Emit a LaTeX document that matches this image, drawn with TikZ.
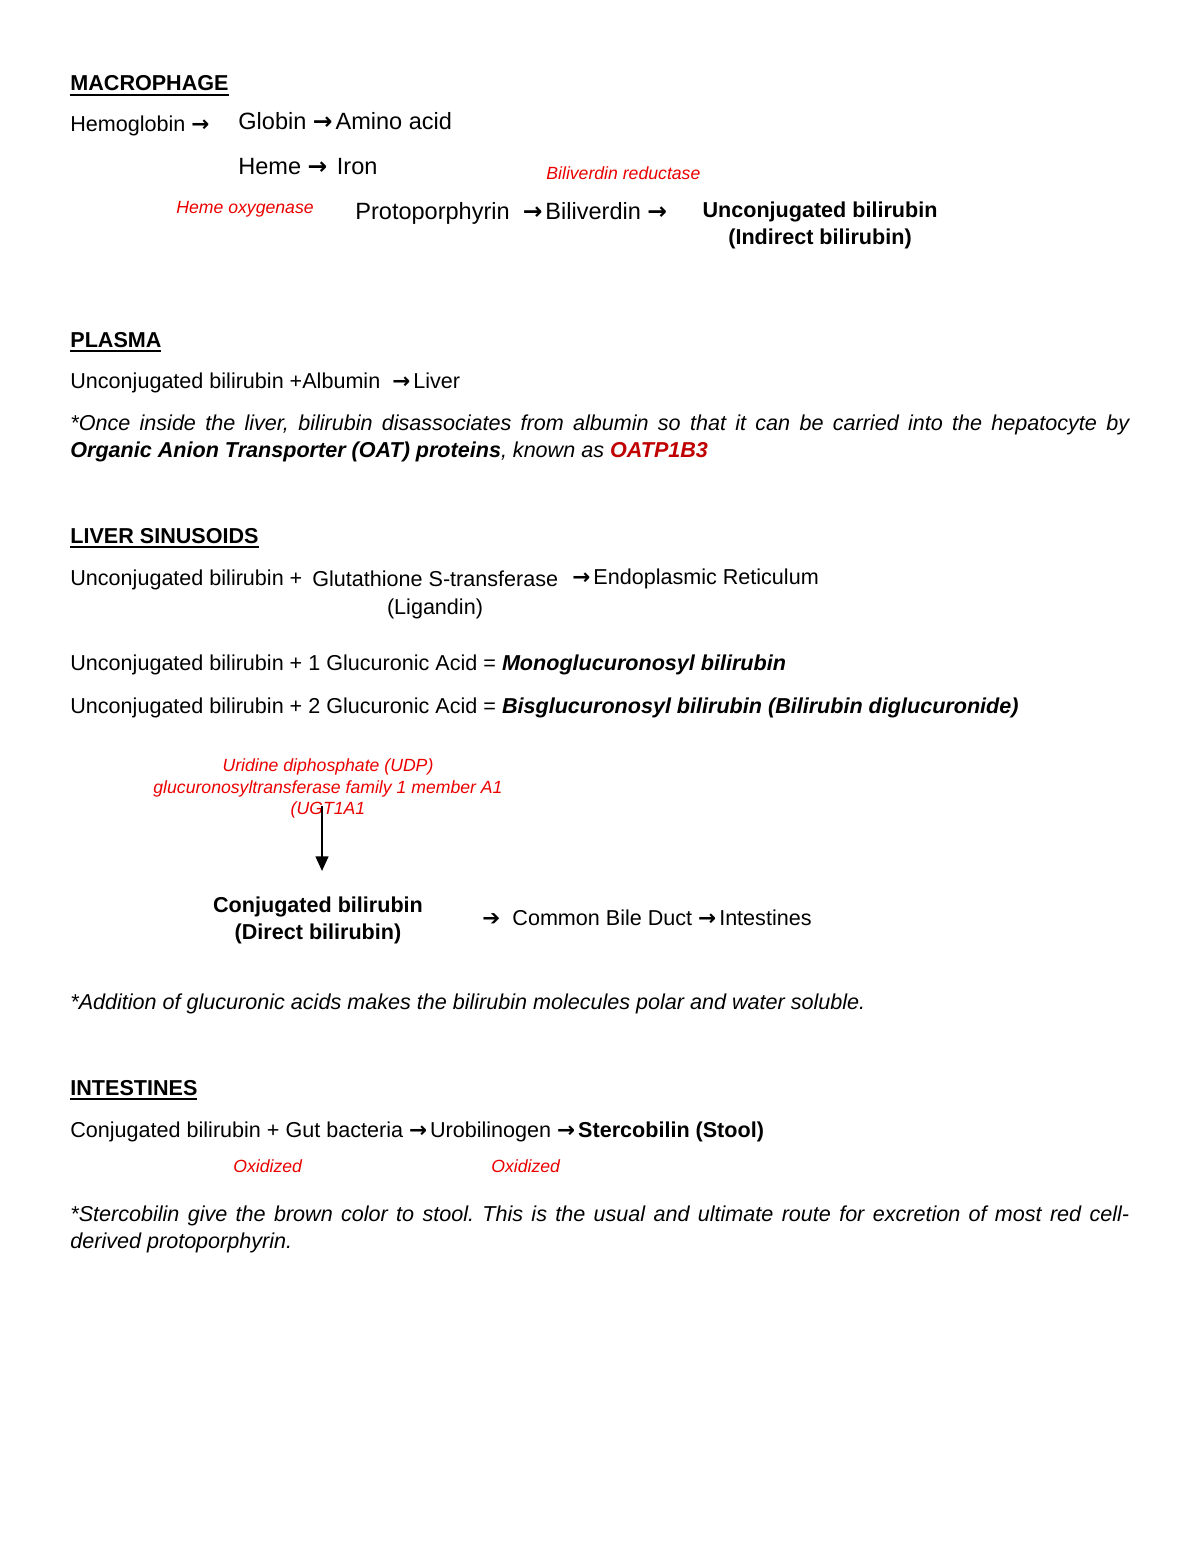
\documentclass[tikz,border=0pt]{standalone}
\usepackage{fontspec}
\setmainfont{Liberation Sans}
\newfontfamily\arrowfont{DejaVu Sans}
\usetikzlibrary{arrows.meta}
\frenchspacing
\definecolor{enzred}{RGB}{235,0,0}
\definecolor{oatred}{RGB}{192,0,0}
\newcommand\ra{{\arrowfont\bfseries →}\kern1.5pt}
\newcommand\hra{{\arrowfont\bfseries ➔}}
\newcommand\hdr[1]{\setbox0\hbox{\bfseries #1}\rlap{\rule[-2.4pt]{\wd0}{1.1pt}}\box0}
\newcommand\jline[1]{\makebox[540pt][s]{#1}}

\begin{document}
\begin{tikzpicture}[x=0.51pt,y=-0.51pt,
		txt/.style={anchor=base west,inner sep=0pt,font=\fontsize{11}{13}\selectfont},
		big/.style={txt,font=\fontsize{12}{14}\selectfont},
		mid/.style={txt,anchor=base},
		enz/.style={txt,text=enzred,font=\fontsize{9}{11}\selectfont\itshape}]
			\useasboundingbox (0,0) rectangle (1200,1553);
			\fill[white] (0,0) rectangle (1200,1553);
			% MACROPHAGE
			\node[txt] (mac) at (70,91) {\hdr{MACROPHAGE}};
			\node[txt] (hgb) at (70,132) {Hemoglobin \ra};
			\node[big] (glob) at (238,130) {Globin \ra Amino acid};
			\node[big] (heme) at (238,175) {Heme \ra\ Iron};
			\node[enz] (bvr) at (546,180) {Biliverdin reductase};
			\node[enz] (hox) at (176,214) {Heme oxygenase};
			\node[big] (proto) at (355,220) {Protoporphyrin \ \ra Biliverdin \ra};
			\node[mid,font=\fontsize{11}{13}\selectfont\bfseries] (ucb) at (820,218) {Unconjugated bilirubin};
			\node[mid,font=\fontsize{11}{13}\selectfont\bfseries] (ind) at (820,245) {(Indirect bilirubin)};
			% PLASMA
			\node[txt] (pla) at (70,347) {\hdr{PLASMA}};
			\node[txt] (alb) at (70,388) {Unconjugated bilirubin +Albumin \ \ra Liver};
			\node[txt,font=\fontsize{11}{13}\selectfont\itshape] (oat1) at (70,430) {\jline{*Once inside the liver, bilirubin disassociates from albumin so that it can be carried into the hepatocyte by}};
			\node[txt,font=\fontsize{11}{13}\selectfont\itshape] (oat2) at (70,457) {\textbf{Organic Anion Transporter (OAT) proteins}, known as \textcolor{oatred}{\textbf{OATP1B3}}};
			% LIVER SINUSOIDS
			\node[txt] (liv) at (70,543) {\hdr{LIVER SINUSOIDS}};
			\node[txt] (ub) at (70,585) {Unconjugated bilirubin +};
			\node[txt] (gst) at (312,586) {Glutathione S-transferase};
			\node[txt] (er) at (572,584) {\ra Endoplasmic Reticulum};
			\node[mid] (lig) at (435,614) {(Ligandin)};
			\node[txt] (mono) at (70,670) {Unconjugated bilirubin + 1 Glucuronic Acid = \textbf{\textit{Monoglucuronosyl bilirubin}}};
			\node[txt] (bis) at (70,713) {Unconjugated bilirubin + 2 Glucuronic Acid = \textbf{\textit{Bisglucuronosyl bilirubin (Bilirubin diglucuronide)}}};
			\node[enz,anchor=base] (udp1) at (328,771) {Uridine diphosphate (UDP)};
			\node[enz,anchor=base] (udp2) at (328,793) {glucuronosyltransferase family 1 member A1};
			\node[enz,anchor=base] (udp3) at (328,814) {(UGT1A1};
			\node[mid,font=\fontsize{11}{13}\selectfont\bfseries] (cb) at (318,912) {Conjugated bilirubin};
			\node[mid,font=\fontsize{11}{13}\selectfont\bfseries] (dir) at (318,939) {(Direct bilirubin)};
			\coordinate (ugt) at (322,806);
			\draw[line width=1.1pt,-{Triangle[width=6.5pt,length=7.5pt]}] (ugt) -- (ugt |- 0,871);
			\node[txt] (cbd) at (482,925) {\hra\ \ Common Bile Duct \ra Intestines};
			\node[txt,font=\fontsize{11}{13}\selectfont\itshape] (pol) at (70,1009) {*Addition of glucuronic acids makes the bilirubin molecules polar and water soluble.};
			% INTESTINES
			\node[txt] (int) at (70,1095) {\hdr{INTESTINES}};
			\node[txt] (gut) at (70,1137) {Conjugated bilirubin + Gut bacteria \ra Urobilinogen \ra \textbf{Stercobilin (Stool)}};
			\node[enz] (ox1) at (233,1172) {Oxidized};
			\node[enz] (ox2) at (491,1172) {Oxidized};
			\node[txt,font=\fontsize{11}{13}\selectfont\itshape] (ster1) at (70,1221) {\jline{*Stercobilin give the brown color to stool. This is the usual and ultimate route for excretion of most red cell-}};
			\node[txt,font=\fontsize{11}{13}\selectfont\itshape] (ster2) at (70,1248) {derived protoporphyrin.};
		\end{tikzpicture}
\end{document}
